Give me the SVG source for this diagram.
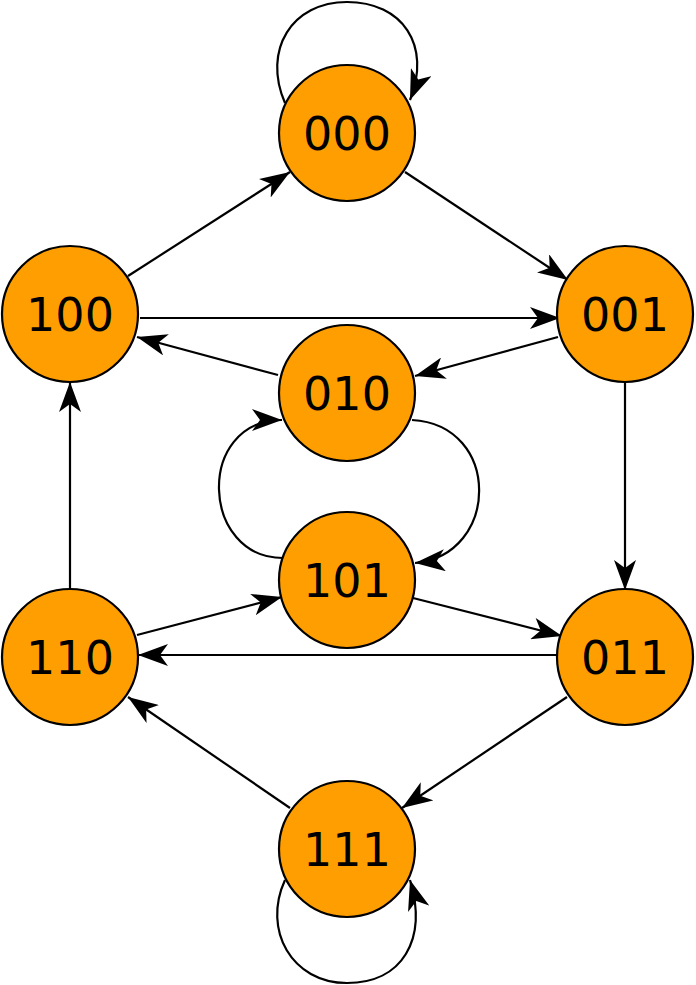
<svg xmlns="http://www.w3.org/2000/svg" width="696" height="985" viewBox="0 0 696 985">
<style>
.e{fill:none;stroke:#000;stroke-width:2.2;marker-end:url(#a)}
.n circle{fill:#ff9e00;stroke:#000;stroke-width:2.2}
.n text{font-family:"DejaVu Sans",sans-serif;font-size:46px;text-anchor:middle;fill:#000}
</style>
<defs>
<marker id="a" markerUnits="userSpaceOnUse" markerWidth="32" markerHeight="22" refX="30" refY="11" orient="auto" viewBox="0 0 32 22">
<path d="M0,0 L30,11 L0,22 L8,11 z" fill="#000"/>
</marker>
</defs>
<g id="connectors">
<path class="e" d="M285,103 C262,50 292,2 347,2 C402,2 432,45 410,100"/>
<path class="e" d="M128,276 L290,172"/>
<path class="e" d="M405,172 L568,280"/>
<path class="e" d="M140,318 L560,318"/>
<path class="e" d="M558,337 L415,376"/>
<path class="e" d="M278,375 L137,337"/>
<path class="e" d="M625,383 L625,590"/>
<path class="e" d="M285,558 C200,560 195,420 282,420"/>
<path class="e" d="M412,420 C502,425 500,555 415,563"/>
<path class="e" d="M70,588 L70,382"/>
<path class="e" d="M137,635 L282,597"/>
<path class="e" d="M413,598 L562,636"/>
<path class="e" d="M557,655 L138,655"/>
<path class="e" d="M567,697 L402,808"/>
<path class="e" d="M290,808 L128,697"/>
<path class="e" d="M285,880 C262,930 292,983 347,983 C402,983 428,940 410,880"/>
</g>
<g id="n000" class="n"><circle cx="347" cy="133" r="68"/><text x="347" y="150">000</text></g>
<g id="n100" class="n"><circle cx="70" cy="314" r="68"/><text x="70" y="331">100</text></g>
<g id="n001" class="n"><circle cx="625" cy="314" r="68"/><text x="625" y="331">001</text></g>
<g id="n010" class="n"><circle cx="347" cy="393" r="68"/><text x="347" y="410">010</text></g>
<g id="n101" class="n"><circle cx="347" cy="580" r="68"/><text x="347" y="597">101</text></g>
<g id="n110" class="n"><circle cx="70" cy="657" r="68"/><text x="70" y="674">110</text></g>
<g id="n011" class="n"><circle cx="625" cy="657" r="68"/><text x="625" y="674">011</text></g>
<g id="n111" class="n"><circle cx="347" cy="849" r="68"/><text x="347" y="866">111</text></g>
</svg>
